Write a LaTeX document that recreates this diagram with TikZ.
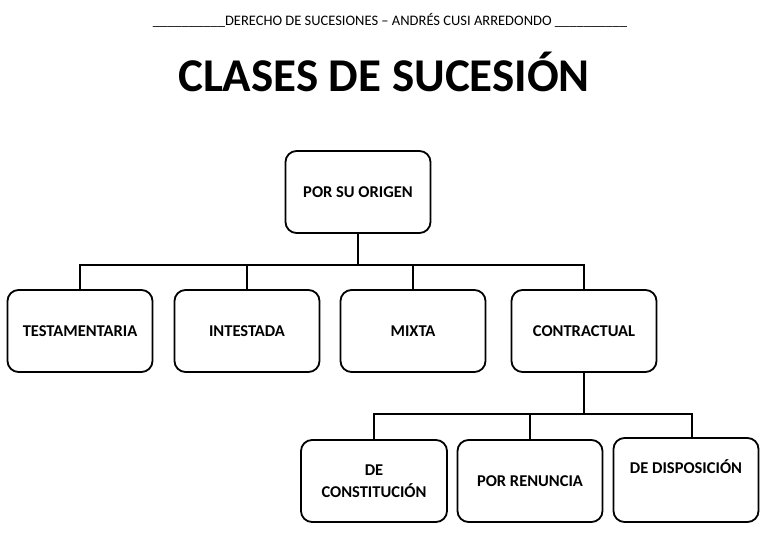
\documentclass[tikz,border=0pt]{standalone}
\usepackage{fontspec}
\setmainfont{Carlito}
\begin{document}
\begin{tikzpicture}[x=1pt,y=-1pt,
  box/.style={draw,line width=1.8pt,rounded corners=11pt,minimum width=145pt,minimum height=82pt,font=\bfseries\fontsize{16.5}{19}\selectfont,align=center,inner sep=2pt},
  con/.style={line width=1.8pt}]
\useasboundingbox (0,0) rectangle (768,545);
\node (hdr) at (390,20) {\fontsize{14.5}{16}\selectfont \_\_\_\_\_\_\_\_\_\_DERECHO DE SUCESIONES -- ANDRÉS CUSI ARREDONDO \_\_\_\_\_\_\_\_\_\_};
\node (title) at (384,72) {\bfseries\fontsize{47}{52}\selectfont CLASES DE SUCESIÓN};
\node[box] (o) at (358,192) {POR SU ORIGEN};
\node[box] (t) at (80,331) {TESTAMENTARIA};
\node[box] (i) at (247,331) {INTESTADA};
\node[box] (m) at (413,331) {MIXTA};
\node[box] (c) at (584,331) {CONTRACTUAL};
\node[box,minimum width=146pt] (dc) at (374,481) {DE\\[3pt]CONSTITUCIÓN};
\node[box] (pr) at (530,481) {POR RENUNCIA};
\node[box,minimum height=84pt] (dd) at (686,480) {DE DISPOSICIÓN\\[8pt]};
\coordinate (j1) at (358,265);
\coordinate (j2) at (584,414);
\draw[con] (o.south) -- (j1);
\draw[con] (t.north) |- (j1);
\draw[con] (c.north) |- (j1);
\draw[con] (i.north) -- (i.north |- j1);
\draw[con] (m.north) -- (m.north |- j1);
\draw[con] (c.south) -- (j2);
\draw[con] (dc.north) |- (j2);
\draw[con] ([xshift=6pt]dd.north) |- (j2);
\draw[con] (pr.north) -- (pr.north |- j2);
\end{tikzpicture}
\end{document}
